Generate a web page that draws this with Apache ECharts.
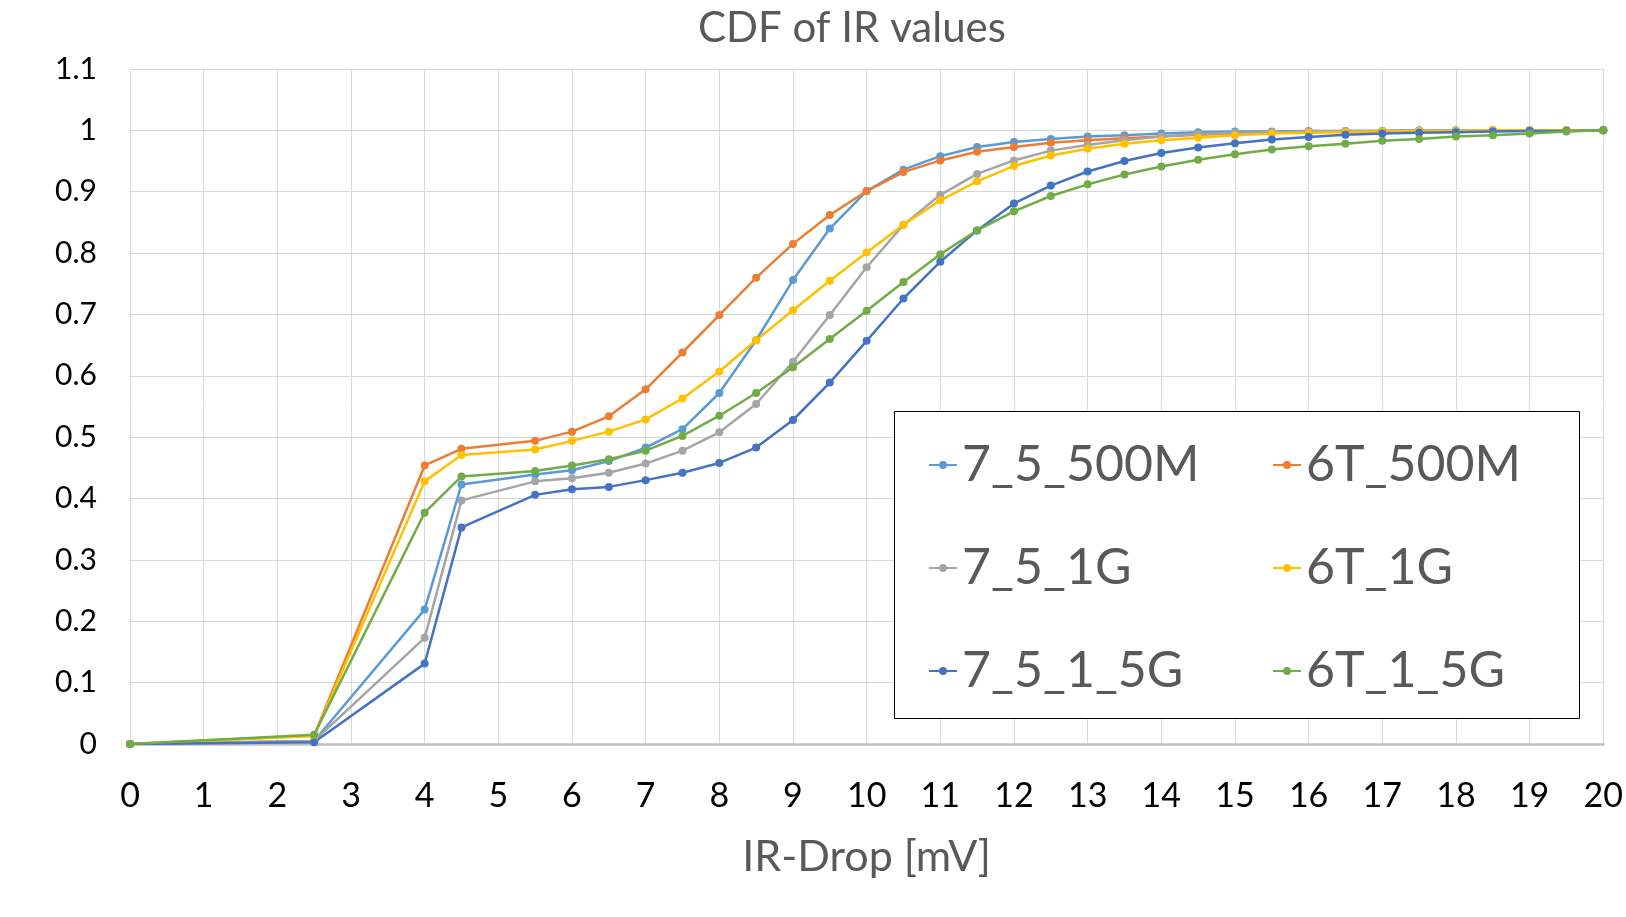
<!DOCTYPE html>
<html>
<head>
<meta charset="utf-8">
<script src="https://cdn.jsdelivr.net/npm/echarts@6/dist/echarts.min.js"></script>
<style>
html,body{margin:0;padding:0;background:#fff;}
#c{width:1626px;height:917px;}
</style>
</head>
<body>
<div id="c"></div>
<script>
const xValues = [0, 2.5, 4, 4.5, 5.5, 6, 6.5, 7, 7.5, 8, 8.5, 9, 9.5, 10, 10.5, 11, 11.5, 12, 12.5, 13, 13.5, 14, 14.5, 15, 15.5, 16, 16.5, 17, 17.5, 18, 18.5, 19, 19.5, 20];
const s7_5_500M = [0, 0.005, 0.219, 0.423, 0.439, 0.446, 0.461, 0.483, 0.513, 0.572, 0.658, 0.756, 0.840, 0.901, 0.936, 0.958, 0.973, 0.981, 0.986, 0.990, 0.992, 0.995, 0.997, 0.998, 0.998, 0.999, 0.999, 0.999, 1.0, 1.0, 1.0, 1.0, 1.0, 1.0];
const s6T_500M = [0, 0.014, 0.454, 0.481, 0.494, 0.509, 0.534, 0.578, 0.638, 0.699, 0.760, 0.815, 0.862, 0.901, 0.932, 0.951, 0.965, 0.973, 0.980, 0.984, 0.987, 0.990, 0.993, 0.995, 0.996, 0.997, 0.998, 0.999, 0.999, 0.999, 1.0, 1.0, 1.0, 1.0];
const s7_5_1G = [0, 0.005, 0.173, 0.397, 0.428, 0.433, 0.442, 0.457, 0.478, 0.508, 0.554, 0.623, 0.699, 0.777, 0.846, 0.895, 0.929, 0.951, 0.967, 0.976, 0.984, 0.990, 0.994, 0.996, 0.997, 0.998, 0.999, 0.999, 1.0, 1.0, 1.0, 1.0, 1.0, 1.0];
const s6T_1G = [0, 0.013, 0.428, 0.471, 0.480, 0.494, 0.509, 0.529, 0.563, 0.607, 0.658, 0.707, 0.755, 0.801, 0.846, 0.886, 0.917, 0.942, 0.959, 0.970, 0.978, 0.984, 0.988, 0.992, 0.995, 0.996, 0.997, 0.998, 0.999, 0.999, 1.0, 1.0, 1.0, 1.0];
const s7_5_1_5G = [0, 0.003, 0.131, 0.353, 0.406, 0.415, 0.419, 0.430, 0.442, 0.458, 0.483, 0.528, 0.589, 0.657, 0.726, 0.786, 0.837, 0.881, 0.910, 0.933, 0.950, 0.963, 0.972, 0.979, 0.985, 0.989, 0.993, 0.995, 0.996, 0.997, 0.998, 0.999, 0.999, 1.0];
const s6T_1_5G = [0, 0.015, 0.377, 0.436, 0.445, 0.454, 0.464, 0.478, 0.502, 0.535, 0.572, 0.614, 0.660, 0.706, 0.753, 0.798, 0.837, 0.868, 0.893, 0.912, 0.928, 0.941, 0.952, 0.961, 0.969, 0.974, 0.978, 0.983, 0.986, 0.990, 0.992, 0.995, 0.998, 1.0];

const seriesNames = ['7_5_500M', '6T_500M', '7_5_1G', '6T_1G', '7_5_1_5G', '6T_1_5G'];
const seriesValues = [s7_5_500M, s6T_500M, s7_5_1G, s6T_1G, s7_5_1_5G, s6T_1_5G];
const colors = ['#5B9BD5', '#ED7D31', '#A5A5A5', '#FFC000', '#4472C4', '#70AD47'];

const titleText = 'CDF of IR values';
const xAxisName = 'IR-Drop [mV]';

const FONT = 'Lato';

const chart = echarts.init(document.getElementById('c'), null, {renderer: 'canvas'});

const series = seriesNames.map((name, i) => ({
  name: name,
  type: 'line',
  data: xValues.map((x, j) => [x, seriesValues[i][j]]),
  symbol: 'circle',
  symbolSize: 8,
  showSymbol: true,
  lineStyle: {width: 2.5, color: colors[i]},
  itemStyle: {color: colors[i]},
  emphasis: {disabled: true},
  animation: false
}));

const legendText = {fontFamily: FONT, fontSize: 50, color: '#595959', lineHeight: 50};

const option = {
  animation: false,
  color: colors,
  title: {
    text: titleText,
    left: 693,
    top: 2,
    textStyle: {fontFamily: FONT, fontSize: 42, fontWeight: 'normal', color: '#595959'}
  },
  grid: {left: 130, right: 19, top: 69, bottom: 173, containLabel: false},
  legend: [
    {
      data: ['7_5_500M', '7_5_1G', '7_5_1_5G'],
      orient: 'vertical', left: 923, top: 435,
      itemWidth: 28, itemHeight: 10, itemGap: 53,
      textStyle: legendText, selectedMode: false, z: 5
    },
    {
      data: ['6T_500M', '6T_1G', '6T_1_5G'],
      orient: 'vertical', left: 1267, top: 435,
      itemWidth: 28, itemHeight: 10, itemGap: 53,
      textStyle: legendText, selectedMode: false, z: 5
    }
  ],
  graphic: [{
    type: 'rect',
    z: 4,
    shape: {x: 894.5, y: 411.5, width: 685, height: 307},
    style: {fill: '#ffffff', stroke: '#000000', lineWidth: 1}
  }],
  xAxis: {
    type: 'value',
    min: 0, max: 20, interval: 1,
    name: xAxisName,
    nameLocation: 'middle',
    nameGap: 92,
    nameTextStyle: {fontFamily: FONT, fontSize: 43, color: '#595959'},
    axisLine: {show: true, lineStyle: {color: '#BFBFBF', width: 2.5}},
    axisTick: {show: false},
    axisLabel: {fontFamily: FONT, fontSize: 34, color: '#000000', margin: 35},
    splitLine: {show: true, lineStyle: {color: '#D9D9D9', width: 1}}
  },
  yAxis: {
    type: 'value',
    min: 0, max: 1.1, interval: 0.1,
    axisLine: {show: false},
    axisTick: {show: false},
    axisLabel: {
      fontFamily: FONT, fontSize: 30, color: '#000000', margin: 33,
      formatter: v => String(+v.toFixed(1))
    },
    splitLine: {show: true, lineStyle: {color: '#D9D9D9', width: 1}}
  },
  series: series
};
chart.setOption(option);
</script>
</body>
</html>
